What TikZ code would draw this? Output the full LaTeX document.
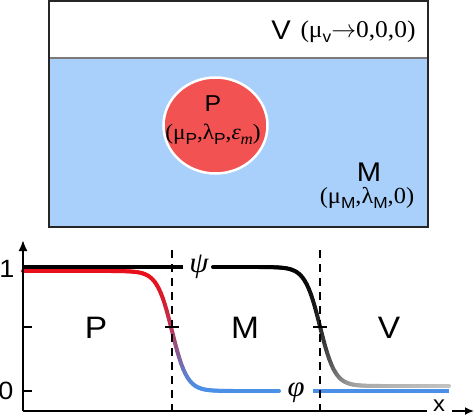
\documentclass[tikz,border=0pt]{standalone}
\usepackage{fontspec}
\setmainfont[FakeStretch=1.06]{Liberation Serif}
\newfontfamily\sfx[FakeStretch=1.08]{Liberation Sans}
\usetikzlibrary{arrows.meta}
\definecolor{boxblue}{HTML}{A8D0FA}
\definecolor{ballred}{HTML}{F25252}
\definecolor{phired}{HTML}{E8101A}
\definecolor{phiblue}{HTML}{4A90E8}
\definecolor{psigray}{HTML}{C4C4C4}
\definecolor{divgray}{HTML}{7A7A7A}
\newcommand\fs[1]{\fontsize{#1}{#1}\selectfont}
\newcommand\sbs[2]{\raisebox{-0.22em}{\sfx\fs{#1}#2}}
\tikzset{
  txt/.style={inner sep=0pt, outer sep=0pt},
  curve/.style={line width=4pt, line cap=round},
  axis/.style={line width=2pt, black},
  guide/.style={line width=2pt, black, dash pattern=on 8pt off 6pt},
  tickmark/.style={line width=2pt, black},
  declare function={sth(\u)=tanh(max(-4,min(4,\u)));}
}
\begin{document}
\begin{tikzpicture}[x=1pt,y=-1pt]
\useasboundingbox (0,0) rectangle (474,416);
% ---------- top box ----------
\fill[white] (49,1) rectangle (428,58);
\fill[boxblue] (49,58) rectangle (428,227);
\coordinate (divL) at (49,58);
\coordinate (divR) at (428,58);
\draw[divgray, line width=2.5pt] (divL) -- (divR);
\draw[line width=2pt, draw=black!85] (49,1) rectangle (428,227);
\fill[ballred] (215.5,125.5) ellipse [x radius=52, y radius=48];
\draw[white, line width=2.5pt] (215.5,125.5) ellipse [x radius=52, y radius=48];
\node[txt] (ballP) at (213,104) {\sfx\fs{23}P};
\node[txt] (ballpar) at (213,134) {\fs{22}(μ\sbs{16}{P},λ\sbs{16}{P},{\itshape ε}\raisebox{-0.22em}{\itshape\fs{16}m})};
\node[txt] (vlab) at (281,30) {\sfx\fs{27}V};
\node[txt] (vpar) at (358,32) {\fs{24}(μ\sbs{16}{v}$\rightarrow$0,0,0)};
\node[txt] (mlab) at (369,172) {\sfx\fs{27}M};
\node[txt] (mpar) at (367,198) {\fs{23}(μ\sbs{16}{M},λ\sbs{16}{M},0)};
% ---------- curves ----------
% phi (red -> blue)
\foreach \xa in {23,25,...,277} {
  \pgfmathsetmacro\xb{\xa+2}
  \pgfmathsetmacro\ya{271+60*(1+sth((\xa-172)/15))}
  \pgfmathsetmacro\yb{271+60*(1+sth((\xb-172)/15))}
  \pgfmathtruncatemacro\t{50*(1+sth((\xa-175)/12))}
  \draw[curve, color=phiblue!\t!phired] (\xa,\ya) -- (\xb,\yb);
}
\coordinate (phiR1) at (313,391);
\coordinate (phiR2) at (449,391);
\draw[curve, phiblue, line cap=butt] (phiR1) -- (phiR2);
% psi (black -> gray)
\coordinate (psiL1) at (23,267);
\coordinate (psiL2) at (183,267);
\draw[curve, black, line cap=butt] (psiL1) -- (psiL2);
\foreach \xa in {213,215,...,447} {
  \pgfmathsetmacro\xb{\xa+2}
  \pgfmathsetmacro\ya{267+59.5*(1+sth((\xa-320)/15))}
  \pgfmathsetmacro\yb{267+59.5*(1+sth((\xb-320)/15))}
  \pgfmathsetmacro\tt{40*(1+sth((\xa-330)/18))+20*max(0,(\xa-300)/150)}
  \pgfmathtruncatemacro\t{min(100,max(0,\tt))}
  \draw[curve, color=psigray!\t!black] (\xa,\ya) -- (\xb,\yb);
}
\node[txt] (psi) at (199,267) {\itshape\fs{29}ψ};
\node[txt] (phi) at (296,393) {\itshape\fs{29}φ};
% ---------- axes ----------
\coordinate (O) at (23,411);
\coordinate (ytop) at (23,240);
\coordinate (xend) at (427,411);
\draw[axis, -{Latex[length=11pt,width=9pt]}] (O) -- (ytop);
\draw[axis] (O) -- (xend);
\node[txt] (xlab) at (439,406) {\sfx\fs{22}x};
\coordinate (xa) at (452,411);
\coordinate (xb) at (474,411);
\draw[axis, -{Latex[length=9pt,width=8pt]}] (xa) -- (xb);
% ticks
\coordinate (t1a) at (23,327); \coordinate (t1b) at (32,327);
\coordinate (t0a) at (23,391); \coordinate (t0b) at (32,391);
\draw[tickmark] (t1a) -- (t1b);
\draw[tickmark] (t0a) -- (t0b);
\node[txt] (one) at (7,269) {\sfx\fs{25}1};
\node[txt] (zero) at (6,391) {\sfx\fs{25}0};
% dashed interfaces
\coordinate (d1t) at (172,250); \coordinate (d1b) at (172,411);
\coordinate (d2t) at (320,250); \coordinate (d2b) at (320,411);
\draw[guide] (d1t) -- (d1b);
\draw[guide] (d2t) -- (d2b);
\coordinate (c1a) at (165,327); \coordinate (c1b) at (179,327);
\coordinate (c2a) at (313,327); \coordinate (c2b) at (327,327);
\draw[tickmark] (c1a) -- (c1b);
\draw[tickmark] (c2a) -- (c2b);
% region labels
\node[txt] (Preg) at (96,328) {\sfx\fs{31}P};
\node[txt] (Mreg) at (245,328) {\sfx\fs{31}M};
\node[txt] (Vreg) at (389,328) {\sfx\fs{31}V};
\end{tikzpicture}
\end{document}
